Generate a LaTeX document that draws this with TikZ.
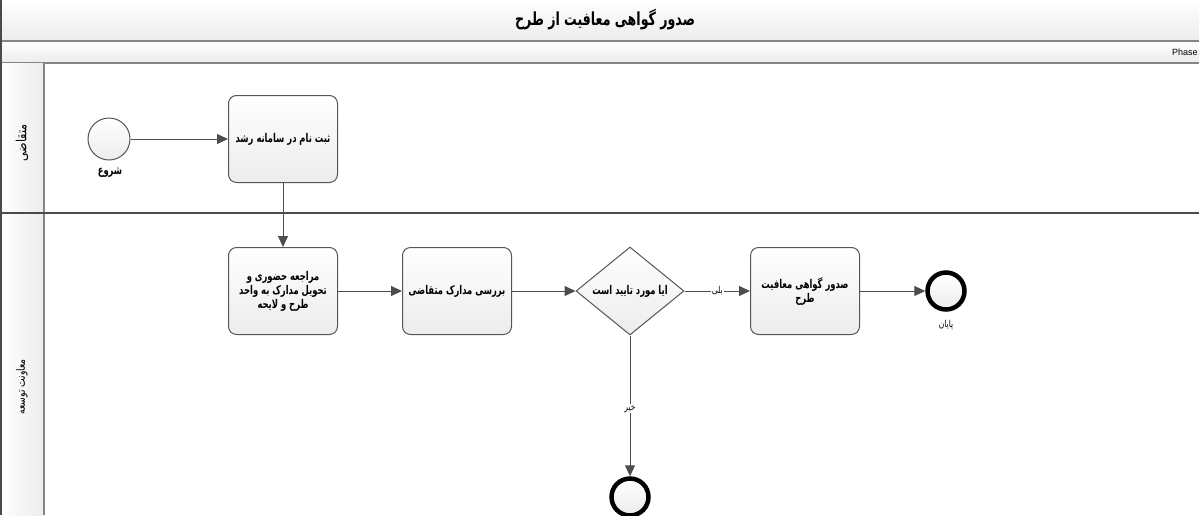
\documentclass[tikz,border=0pt]{standalone}
\usepackage{fontspec}
\setmainfont{DejaVu Sans}
\newfontfamily\fa[Script=Arabic]{DejaVu Sans}
\newfontfamily\fac[Script=Arabic, FakeStretch=0.8]{DejaVu Sans}
\newfontfamily\facc[Script=Arabic, FakeStretch=0.7]{DejaVu Sans}
\newfontfamily\lat{Liberation Sans}
\TeXXeTstate=1
\usetikzlibrary{arrows.meta,shapes.geometric}
\definecolor{conn}{HTML}{4D4D4D}
\definecolor{taskborder}{HTML}{555555}
\definecolor{fillgray}{HTML}{ECECEC}
\definecolor{bandline}{HTML}{858585}
\definecolor{laneline}{HTML}{4A4A4A}
\tikzset{
  task/.style={draw=taskborder, line width=1pt, rounded corners=8pt,
    top color=white, bottom color=fillgray,
    minimum width=109pt, minimum height=87pt, inner sep=2pt, align=center,
    font=\facc\bfseries\fontsize{12}{14}\selectfont},
  gate/.style={diamond, draw=taskborder, line width=1pt, shape aspect=1.23,
    top color=white, bottom color=fillgray, inner sep=0pt,
    minimum width=108pt, minimum height=88pt,
    font=\facc\bfseries\fontsize{12}{14}\selectfont},
  startev/.style={circle, draw=taskborder, line width=1pt, minimum size=42pt,
    inner sep=0pt, top color=white, bottom color=fillgray},
  endev/.style={circle, draw=black, line width=4.5pt, minimum size=37pt,
    inner sep=0pt, top color=white, bottom color=fillgray},
  flow/.style={draw=conn, line width=1pt, -{Triangle[length=11pt,width=10pt]}},
  flowlabel/.style={fill=white, inner sep=1pt, font=\fac\fontsize{9.5}{11}\selectfont},
  evlabel/.style={font=\fac\fontsize{9.5}{11}\selectfont},
  lanelabel/.style={rotate=90}
}
\begin{document}
\begin{tikzpicture}[x=1pt,y=-1pt]
\useasboundingbox (0,0) rectangle (1199,515);
\clip (0,0) rectangle (1199,515);
% title bar
\shade[top color=white, bottom color=fillgray] (0,0) rectangle (1199,40);
\node (title) at (605,20) {\facc\bfseries\fontsize{18}{20}\selectfont\beginR صدور گواهی معافیت از طرح\endR};
% phase band
\shade[top color=white, bottom color=fillgray] (0,41) rectangle (1199,62);
\node[anchor=west, inner sep=0pt, font=\lat\fontsize{9}{10}\selectfont] (phase) at (1172,52) {Phase};
\draw[bandline, line width=2pt] (0,40.5) -- (1199,40.5);
\draw[bandline, line width=2pt] (0,62.5) -- (1199,62.5);
% lane headers
\shade[left color=white, right color=fillgray] (0,63) rectangle (44,515);
\draw[bandline, line width=2pt] (44,63) -- (44,515);
\draw[laneline, line width=1.5pt] (0,213) -- (1199,213);
\draw[laneline, line width=1.5pt] (0.75,0) -- (0.75,515);
\node[lanelabel, font=\fac\fontsize{14}{16}\selectfont] (lane1) at (22,143) {\beginR متقاضی\endR};
\node[lanelabel, font=\fac\fontsize{11.5}{13}\selectfont] (lane2) at (22,387) {\beginR معاونت توسعه\endR};
% nodes
\node[startev] (start) at (109,139) {};
\node[font=\facc\bfseries\fontsize{12}{14}\selectfont] (startlbl) at (110,172) {\beginR شروع\endR};
\node[task] (t1) at (283,139) {\beginR ثبت نام در سامانه رشد\endR};
\node[task] (t2) at (283,291) {\beginR مراجعه حضوری و\endR\\\beginR تحویل مدارک به واحد\endR\\\beginR طرح و لایحه\endR};
\node[task] (t3) at (457,291) {\beginR بررسی مدارک متقاضی\endR};
\node[gate] (g) at (630,291) {\beginR ایا مورد تایید است\endR};
\node[task] (t4) at (805,291) {\beginR صدور گواهی معافیت\endR\\\beginR طرح\endR};
\node[endev] (e1) at (946,291) {};
\node[evlabel] (e1lbl) at (946,325) {\beginR پایان\endR};
\node[endev] (e2) at (630,497) {};
% connectors
\draw[flow] (start) -- (t1);
\draw[flow] (t1) -- (t2);
\draw[flow] (t2) -- (t3);
\draw[flow] (t3) -- (g);
\draw[flow] (g) -- node[flowlabel, pos=0.5] (yes) {\beginR بلی\endR} (t4);
\draw[flow] (t4) -- (e1);
\draw[flow] (g) -- node[flowlabel, pos=0.52] (no) {\beginR خیر\endR} (e2);
\end{tikzpicture}
\end{document}
